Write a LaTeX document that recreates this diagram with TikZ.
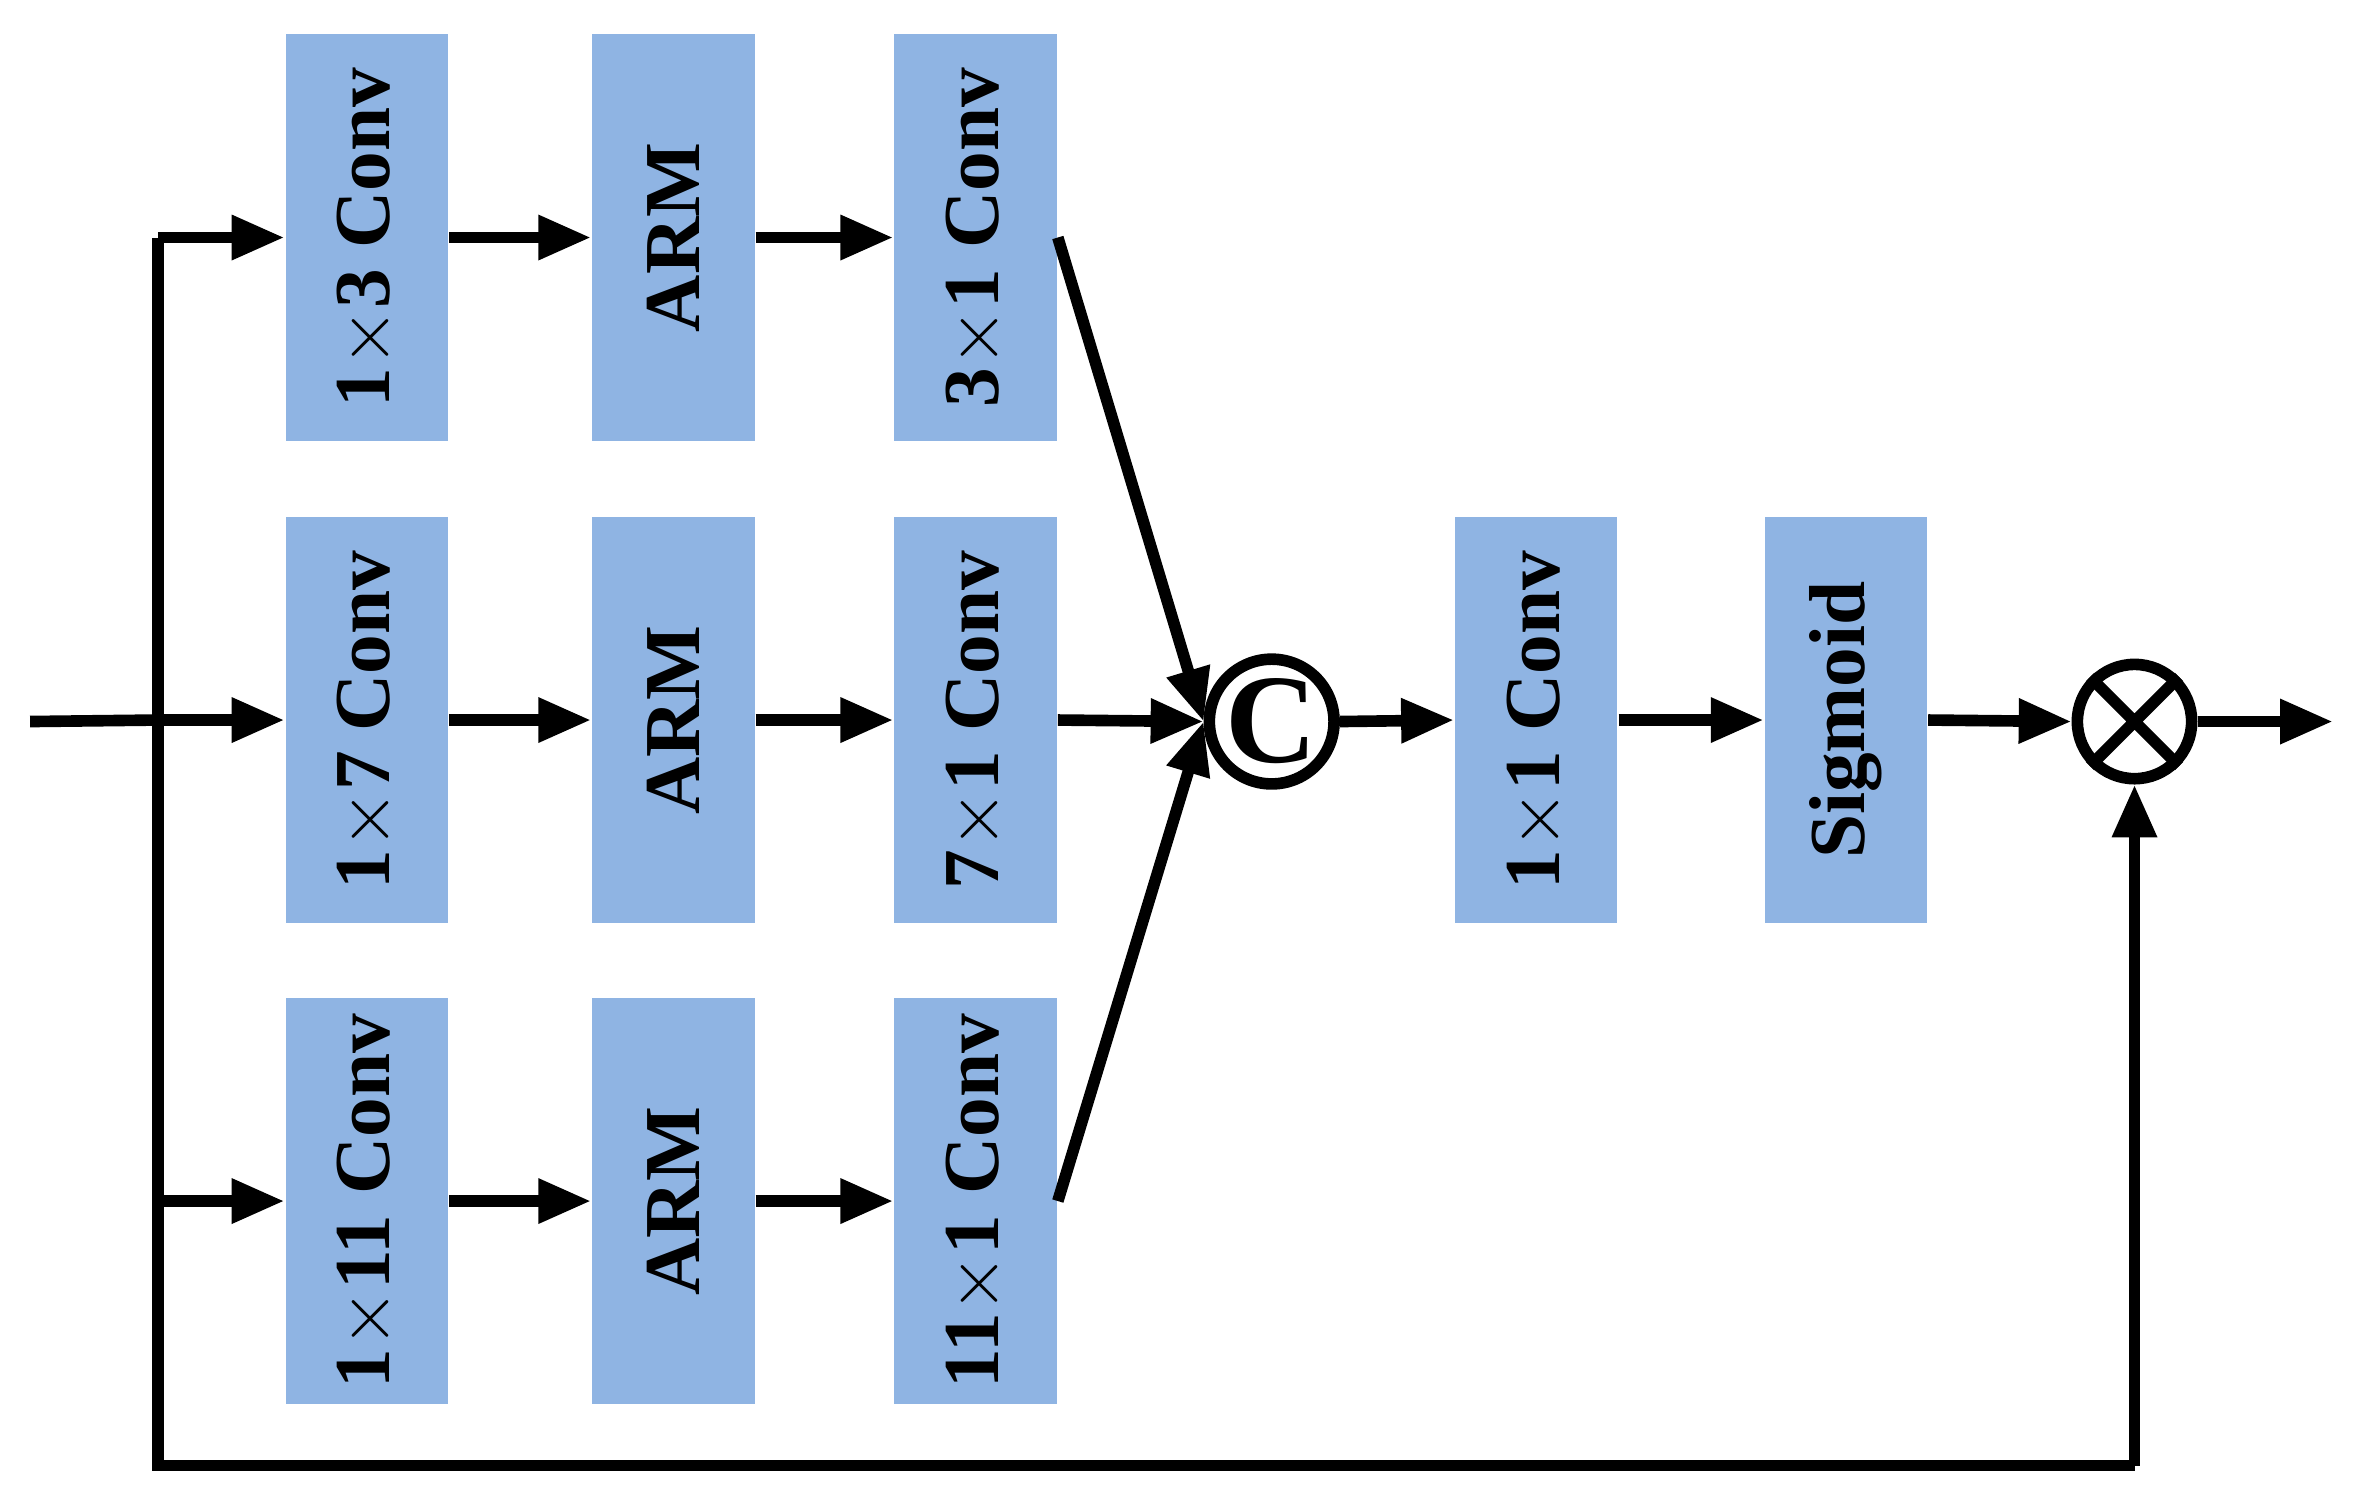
\documentclass[tikz,border=0pt]{standalone}
\usepackage{fontspec}
\setmainfont{Liberation Serif}
\usetikzlibrary{arrows.meta}
\definecolor{bx}{HTML}{8FB4E3}
\begin{document}
\begin{tikzpicture}[x=0.01cm,y=-0.01cm,
 box/.style={fill=bx,minimum width=1.08cm,minimum height=2.7cm,inner sep=0pt,font=\bfseries\fontsize{15}{15}\selectfont},
 lbl/.style={rotate=90},
 ar/.style={line width=2.2pt,-{Triangle[length=10pt,width=8pt]}},
 ln/.style={line width=2.2pt},
 circ/.style={circle,draw,line width=2.2pt,minimum size=0.76cm,inner sep=0pt,fill=white}]
\useasboundingbox (0,0) rectangle (1568,1002);
\foreach \n/\x/\y/\t in {a1/244/158/{1$\times$3 Conv},a2/448/158/ARM,a3/649/158/{3$\times$1 Conv},
 b1/244/479/{1$\times$7 Conv},b2/448/479/ARM,b3/649/479/{7$\times$1 Conv},
 c1/244/799/{1$\times$11 Conv},c2/448/799/ARM,c3/649/799/{11$\times$1 Conv},
 d1/1022/479/{1$\times$1 Conv},d2/1228/479/Sigmoid}
 \node[box] (\n) at (\x,\y) {\rotatebox{90}{\t}};
\node[circ,font=\bfseries\fontsize{24}{24}\selectfont] (C) at (846,480) {C};
\node[circ] (M) at (1420,480) {};
\draw[line width=2.2pt] (M.north east) -- (M.south west) (M.north west) -- (M.south east);
\coordinate (in) at (20,480);
\coordinate (t) at (105,158);
\coordinate (m) at (105,479);
\coordinate (b) at (105,799);
\coordinate (bb) at (105,975);
\coordinate (br) at (1420,975);
\coordinate (out) at (1552,480);
\draw[ln] (in) -- (m);
\draw[ln] (t) -- (bb) -- (br);
\draw[ar] (br) -- (M.south);
\draw[ar] (t) -- (a1.west);
\draw[ar] (m) -- (b1.west);
\draw[ar] (b) -- (c1.west);
\foreach \r in {a,b,c}{
 \draw[ar] (\r1.east) -- (\r2.west);
 \draw[ar] (\r2.east) -- (\r3.west);}
\draw[ar] (a3.east) -- (C.west);
\draw[ar] (b3.east) -- (C.west);
\draw[ar] (c3.east) -- (C.west);
\draw[ar] (C.east) -- (d1.west);
\draw[ar] (d1.east) -- (d2.west);
\draw[ar] (d2.east) -- (M.west);
\draw[ar] (M.east) -- (out);
\end{tikzpicture}
\end{document}
